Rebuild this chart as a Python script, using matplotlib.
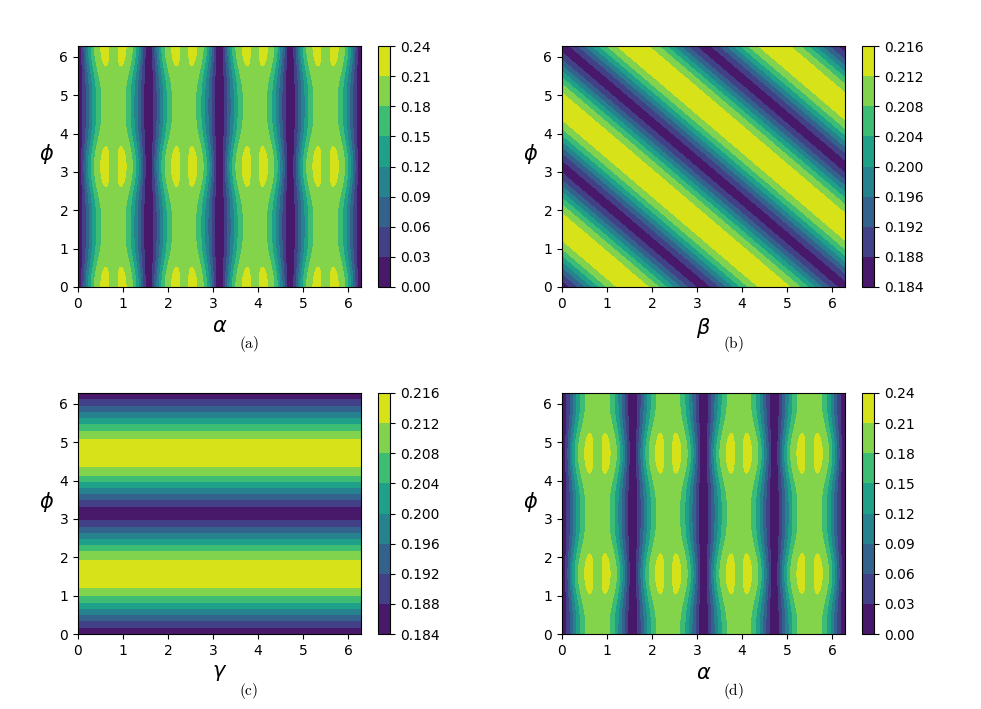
import math
import numpy as np
import matplotlib.pyplot as plt

# contour levels shown on the colour bars
levels_alpha = [0.00, 0.03, 0.06, 0.09, 0.12, 0.15, 0.18, 0.21, 0.24]
levels_phase = [0.184, 0.188, 0.192, 0.196, 0.200, 0.204, 0.208, 0.212, 0.216]

# surface coefficients
# (value at phi = pi/2, value at phi = 0)
alpha_amp = [0.2806, 0.229]
alpha_width = [1.177, 0.728]
alpha_power = 1.4
alpha_dip = 0.020            # dip at alpha = pi/4
phase_base = 0.186
phase_amp = 0.0285

captions = ['(a)', '(b)', '(c)', '(d)']
xlabels = [r'$\alpha$', r'$\beta$', r'$\gamma$', r'$\alpha$']

erf = np.vectorize(math.erf)


def f_alpha(a, phi):
    t = np.abs(np.sin(2 * a))
    c = np.cos(phi) ** 2
    A = alpha_amp[0] + (alpha_amp[1] - alpha_amp[0]) * c
    tau = alpha_width[0] + (alpha_width[1] - alpha_width[0]) * c ** 1.3
    return A * erf((t / tau) ** alpha_power) - alpha_dip * t ** 24


def f_phase(p):
    return phase_base + phase_amp * np.abs(np.sin(p)) ** 1.5


x = np.linspace(0, 2 * np.pi, 600)
X, Y = np.meshgrid(x, x)

surfaces = [f_alpha(X, Y), f_phase(X + Y), f_phase(Y) + 0 * X, f_alpha(X, Y + np.pi / 2)]
levels = [levels_alpha, levels_phase, levels_phase, levels_alpha]

W, H = 981, 709
fig = plt.figure(figsize=(W / 100, H / 100), dpi=100)

# pixel (left, top) of each axes
corners = [(78, 46), (562, 46), (78, 393), (562, 393)]
ax_w, ax_h = 283, 241

for i in range(4):
    l, t = corners[i]
    ax = fig.add_axes([l / W, 1 - (t + ax_h) / H, ax_w / W, ax_h / H])
    cs = ax.contourf(X, Y, surfaces[i], levels=levels[i], cmap='viridis')
    ax.set_xlim(0, 2 * np.pi)
    ax.set_ylim(0, 2 * np.pi)
    ax.set_xticks(range(7))
    ax.set_yticks(range(7))
    ax.set_xlabel(xlabels[i], fontsize=15)
    ax.set_ylabel(r'$\phi$', fontsize=15, rotation=0)
    ax.yaxis.set_label_coords(-0.11, 0.5)

    cax = fig.add_axes([(l + 300) / W, 1 - (t + ax_h) / H, 12 / W, ax_h / H])
    fig.colorbar(cs, cax=cax)

    fig.text((l + 171) / W, 1 - (t + 298) / H, r'$\mathrm{' + captions[i] + '}$',
             ha='center', va='center', fontsize=11, math_fontfamily='cm')

fig.savefig('out.png', dpi=100)
